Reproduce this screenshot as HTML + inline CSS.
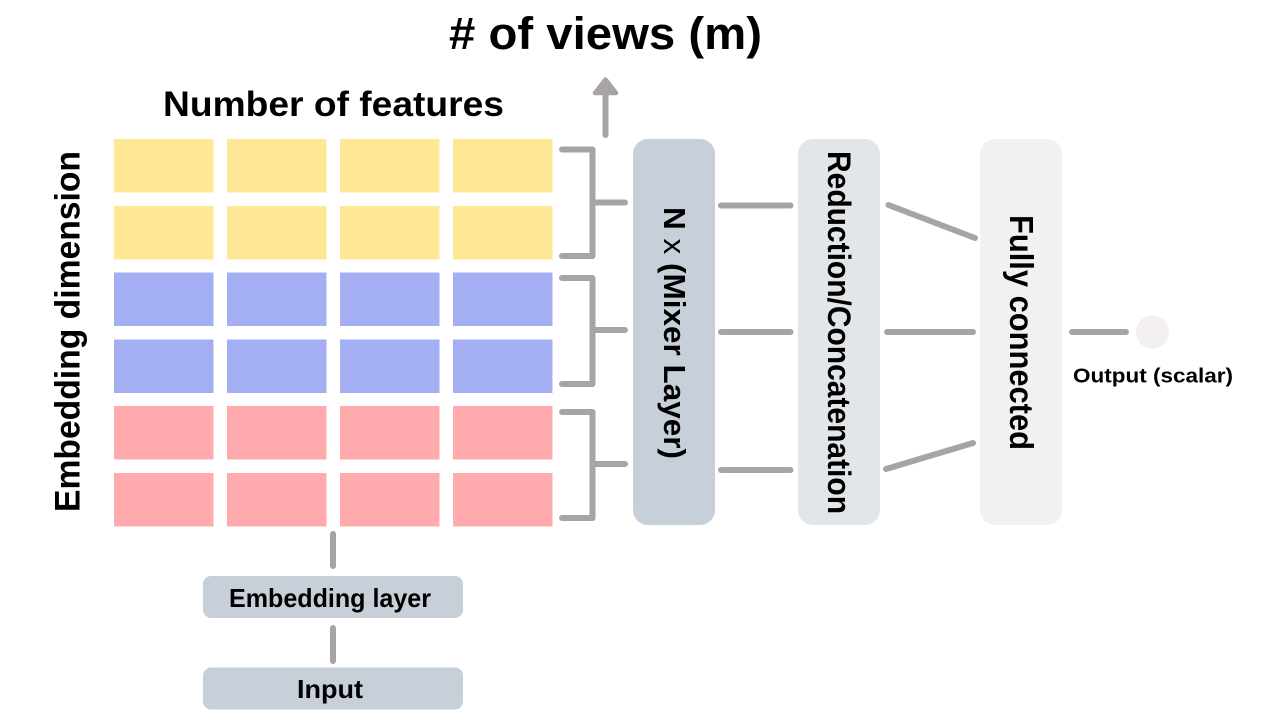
<!DOCTYPE html>
<html><head><meta charset="utf-8"><style>
html,body{margin:0;padding:0;background:#fff;width:1280px;height:720px;overflow:hidden}
svg{display:block}
text{font-family:"Liberation Sans",sans-serif;font-weight:700;fill:#000}
</style></head><body>
<svg width="1280" height="720" viewBox="0 0 1280 720" xmlns="http://www.w3.org/2000/svg">
<rect width="1280" height="720" fill="#fff"/>
<g fill="#fee896">
<rect x="114" y="139" width="99.500" height="53.500"/><rect x="227" y="139" width="99.500" height="53.500"/><rect x="340" y="139" width="99.500" height="53.500"/><rect x="453" y="139" width="99.500" height="53.500"/>
<rect x="114" y="206" width="99.500" height="53.500"/><rect x="227" y="206" width="99.500" height="53.500"/><rect x="340" y="206" width="99.500" height="53.500"/><rect x="453" y="206" width="99.500" height="53.500"/>
</g>
<g fill="#a4aff3">
<rect x="114" y="272.500" width="99.500" height="53.500"/><rect x="227" y="272.500" width="99.500" height="53.500"/><rect x="340" y="272.500" width="99.500" height="53.500"/><rect x="453" y="272.500" width="99.500" height="53.500"/>
<rect x="114" y="339.500" width="99.500" height="53.500"/><rect x="227" y="339.500" width="99.500" height="53.500"/><rect x="340" y="339.500" width="99.500" height="53.500"/><rect x="453" y="339.500" width="99.500" height="53.500"/>
</g>
<g fill="#ffabad">
<rect x="114" y="406" width="99.500" height="53.500"/><rect x="227" y="406" width="99.500" height="53.500"/><rect x="340" y="406" width="99.500" height="53.500"/><rect x="453" y="406" width="99.500" height="53.500"/>
<rect x="114" y="473" width="99.500" height="53.500"/><rect x="227" y="473" width="99.500" height="53.500"/><rect x="340" y="473" width="99.500" height="53.500"/><rect x="453" y="473" width="99.500" height="53.500"/>
</g>
<rect x="633" y="139" width="82" height="386" rx="15" fill="#c7cfd9"/>
<rect x="798" y="139" width="82" height="386" rx="15" fill="#e3e6e9"/>
<rect x="980" y="139" width="82" height="386" rx="15" fill="#f1f1f2"/>
<rect x="203" y="576" width="260" height="42" rx="8" fill="#c7cfd9"/>
<rect x="203" y="667.500" width="260" height="42" rx="8" fill="#c7cfd9"/>
<circle cx="1152.500" cy="332" r="16.500" fill="#f4f0f0"/>
<g fill="none" stroke="#a8a4a4" stroke-width="6" stroke-linecap="round" stroke-linejoin="round">
<path d="M562 149.500H592.500V256H562M592.500 202.500H625"/>
<path d="M562 278H592.500V384H562M592.500 330H625"/>
<path d="M562 412H592.500V518H562M592.500 464H625"/>
<path d="M605.500 135V90"/>
<path d="M721 205.500H790.500M721 332H790.500M721 470H790.500"/>
<path d="M888.500 205L975 238M887 332H973M886 469L973 443"/>
<path d="M1072 332H1126"/>
<path d="M333 534V566M333 628V661"/>
</g>
<path d="M605.500 79.500L616 93H595Z" fill="#a8a4a4" stroke="#a8a4a4" stroke-width="4.500" stroke-linejoin="round"/>
<text x="449" y="49" font-size="45" textLength="313" lengthAdjust="spacingAndGlyphs">&#35; of views (m)</text>
<text x="163" y="116" font-size="35" textLength="341" lengthAdjust="spacingAndGlyphs">Number of features</text>
<text transform="translate(79.500 512) rotate(-90)" font-size="35" textLength="361" lengthAdjust="spacingAndGlyphs">Embedding dimension</text>
<text transform="translate(664 207) rotate(90)" font-size="31" textLength="252" lengthAdjust="spacingAndGlyphs">N <tspan font-weight="400">x</tspan> (Mixer Layer)</text>
<text transform="translate(828 151) rotate(90)" font-size="32" textLength="363" lengthAdjust="spacingAndGlyphs">Reduction/Concatenation</text>
<text transform="translate(1010 215) rotate(90)" font-size="33" textLength="235" lengthAdjust="spacingAndGlyphs">Fully connected</text>
<text x="1073" y="382.500" font-size="20.500" textLength="160" lengthAdjust="spacingAndGlyphs">Output (scalar)</text>
<text x="229" y="607" font-size="26" textLength="202" lengthAdjust="spacingAndGlyphs">Embedding layer</text>
<text x="297" y="698" font-size="26" textLength="66" lengthAdjust="spacingAndGlyphs">Input</text>
</svg>
</body></html>
